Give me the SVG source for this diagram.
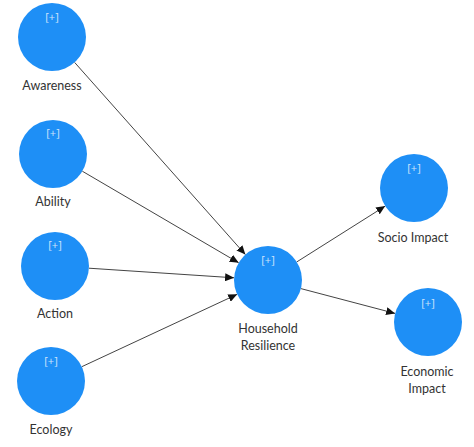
<svg xmlns="http://www.w3.org/2000/svg" width="474" height="447" viewBox="0 0 474 447">
<style>
.node circle{fill:#1e8ff6;}
.plus{font-family:"Open Sans","Noto Sans",sans-serif;font-size:11px;fill:#cfe3fb;text-anchor:middle;}
.lbl{font-family:Lato,"Open Sans",sans-serif;font-size:12.5px;fill:#333;text-anchor:middle;}
.edges line{stroke:#444;stroke-width:1;marker-end:url(#arr);}
</style>
<defs>
<marker id="arr" markerUnits="userSpaceOnUse" markerWidth="10" markerHeight="8" refX="9" refY="4" orient="auto">
<path d="M0,0 L9,4 L0,8 Z" fill="#111"/>
</marker>
</defs>
<rect width="474" height="447" fill="#fff"/>
<g class="edges">
<line x1="74.6" y1="62.4" x2="245.4" y2="254.6"/>
<line x1="82.3" y1="171.2" x2="238.7" y2="262.8"/>
<line x1="88.9" y1="268.2" x2="234.1" y2="277.8"/>
<line x1="81.8" y1="366.7" x2="237.2" y2="294.3"/>
<line x1="296.8" y1="261.9" x2="385.2" y2="206.1"/>
<line x1="300.9" y1="288.6" x2="395.1" y2="313.4"/>
</g>
<g id="awareness" class="node"><circle cx="52" cy="37" r="34"/><text class="plus" x="52" y="21">[+]</text><text class="lbl" x="52" y="90">Awareness</text></g>
<g id="ability" class="node"><circle cx="53" cy="154" r="34"/><text class="plus" x="53" y="137">[+]</text><text class="lbl" x="53" y="206">Ability</text></g>
<g id="action" class="node"><circle cx="55" cy="266" r="34"/><text class="plus" x="55" y="249">[+]</text><text class="lbl" x="55" y="318">Action</text></g>
<g id="ecology" class="node"><circle cx="51" cy="381" r="34"/><text class="plus" x="51" y="365">[+]</text><text class="lbl" x="51" y="434">Ecology</text></g>
<g id="household" class="node"><circle cx="268" cy="280" r="34"/><text class="plus" x="268" y="264">[+]</text><text class="lbl" x="268" y="333">Household</text><text class="lbl" x="268" y="350">Resilience</text></g>
<g id="socio" class="node"><circle cx="414" cy="188" r="34"/><text class="plus" x="414" y="172">[+]</text><text class="lbl" x="413" y="242">Socio Impact</text></g>
<g id="economic" class="node"><circle cx="428" cy="322" r="34"/><text class="plus" x="428" y="307">[+]</text><text class="lbl" x="427" y="376">Economic</text><text class="lbl" x="427" y="393">Impact</text></g>
</svg>
